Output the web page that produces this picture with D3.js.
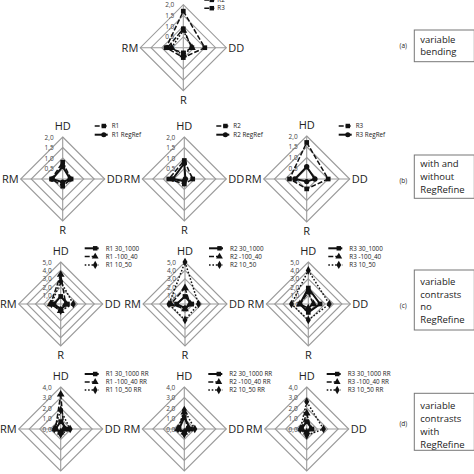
<!DOCTYPE html>
<html><head><meta charset="utf-8">
<script src="https://cdn.jsdelivr.net/npm/d3@7"></script>
<style>body{margin:0;background:#fff}svg{display:block}</style>
</head><body>
<svg id="c" width="474" height="474"></svg>
<script>
// ---------- data ----------
const axes = ["HD","DD","R","RM"];
const ticksAB = ["0","0,5","1,0","1,5","2,0"];
const ticksC  = ["0","1,0","2,0","3,0","4,0","5,0"];
const ticksD  = ["0,0","1,0","2,0","3,0","4,0"];

// panel (a) – variable bending (HD, DD, R, RM)
const aR1 = [0.80, 0.40, 0.34, 0.55];
const aR2 = [0.88, 0.40, 0.24, 0.74];
const aR3 = [1.70, 1.00, 0.46, 0.80];
// panel (b) – with/without RegRefine
const bR1 = [0.80, 0.40, 0.34, 0.53], bR1Reg = [0.60, 0.35, 0.15, 0.50];
const bR2 = [0.88, 0.40, 0.24, 0.74], bR2Reg = [0.75, 0.05, 0.10, 0.55];
const bR3 = [1.70, 1.00, 0.46, 0.80], bR3Reg = [0.57, 0.38, 0.12, 0.55];
// panel (c) – variable contrasts, no RegRefine
const c1_30 = [0.9, 0.8, 0.6, 0.8], c1_100 = [3.5, 0.6, 0.8, 1.2], c1_10 = [2.7, 1.5, 0.8, 1.1];
const c2_30 = [0.9, 0.8, 0.5, 1.0], c2_100 = [1.9, 0.6, 0.6, 1.7], c2_10 = [5.0, 1.6, 1.9, 1.9];
const c3_30 = [1.9, 1.4, 1.0, 1.0], c3_100 = [1.4, 0.6, 0.5, 1.0], c3_10 = [4.0, 2.5, 1.9, 2.0];
// panel (d) – variable contrasts with RegRefine
const d1_30 = [0.7, 0.6, 0.3, 0.5], d1_100 = [3.3, 0.3, 0.3, 0.5], d1_10 = [1.8, 0.9, 0.5, 0.6];
const d2_30 = [1.1, 0.6, 0.3, 0.5], d2_100 = [1.6, 0.3, 0.3, 0.6], d2_10 = [1.8, 1.0, 0.5, 0.6];
const d3_30 = [0.7, 0.5, 0.3, 0.5], d3_100 = [1.5, 0.4, 0.3, 0.5], d3_10 = [2.6, 1.6, 0.6, 0.6];

const boxTexts = {
  a: ["variable","bending"],
  b: ["with and","without","RegRefine"],
  c: ["variable","contrasts","no","RegRefine"],
  d: ["variable","contrasts","with","RegRefine"]
};

// ---------- styles ----------
const ST = {
  solid:  {dash:null, w:2},
  dash:   {dash:"5,2", w:1.5},
  dot:    {dash:"1.6,1.8", w:1.5},
};
const SYM = {square:d3.symbolSquare, triangle:d3.symbolTriangle, diamond:d3.symbolDiamond, circle:d3.symbolCircle};
const font = "'Open Sans', 'Liberation Sans', sans-serif";

const svg = d3.select("#c");

function radar(cx, cy, R, max, ticks, series, legend) {
  const g = svg.append("g").attr("transform", `translate(${cx},${cy})`);
  const r = d3.scaleLinear().domain([0, max]).range([0, R]);
  const ang = d3.scaleLinear().domain([0, axes.length]).range([0, 2*Math.PI]);
  const step = max / (ticks.length - 1);
  const ringVals = d3.range(1, ticks.length).map(i => i*step);
  ringVals.forEach(v => {
    g.append("path")
      .attr("d", d3.lineRadial().angle((d,i)=>ang(i)).radius(()=>r(v)).curve(d3.curveLinearClosed)(axes))
      .attr("fill","none").attr("stroke","#9a9a9a").attr("stroke-width",1.1);
  });
  axes.forEach((a,i) => {
    const x = Math.sin(ang(i))*R, y = -Math.cos(ang(i))*R;
    g.append("line").attr("x1",0).attr("y1",0).attr("x2",x).attr("y2",y)
      .attr("stroke","#9a9a9a").attr("stroke-width",1.1);
  });
  const lab = g.append("g").attr("font-family",font).attr("font-size",11).attr("fill","#222");
  lab.append("text").attr("x",0).attr("y",-R-7).attr("text-anchor","middle").text(axes[0]);
  lab.append("text").attr("x",R+2).attr("y",4).attr("text-anchor","start").text(axes[1]);
  lab.append("text").attr("x",0).attr("y",R+13).attr("text-anchor","middle").text(axes[2]);
  lab.append("text").attr("x",-R-2).attr("y",4).attr("text-anchor","end").text(axes[3]);
  g.append("g").attr("font-family",font).attr("font-size",6.5).attr("fill","#444")
    .selectAll("text").data(ticks).join("text")
    .attr("x",-9).attr("y",(d,i)=>-r(i*step)+2.5).attr("text-anchor","end").text(d=>d);
  series.forEach(s => {
    const st = ST[s.line];
    g.append("path")
      .attr("d", d3.lineRadial().angle((d,i)=>ang(i)).radius(d=>r(d)).curve(d3.curveLinearClosed)(s.values))
      .attr("fill","none").attr("stroke","#111").attr("stroke-width",st.w)
      .attr("stroke-dasharray",st.dash);
    g.selectAll(null).data(s.values).join("path")
      .attr("transform",(d,i)=>`translate(${Math.sin(ang(i))*r(d)},${-Math.cos(ang(i))*r(d)})`)
      .attr("d", d3.symbol(SYM[s.marker], s.marker==="triangle"?26:22)())
      .attr("fill","#111");
  });
  if (legend) {
    const lg = svg.append("g").attr("font-family",font).attr("font-size",6.3).attr("fill","#222");
    series.forEach((s,i) => {
      const y = legend.y + i*legend.dy;
      const st = ST[s.line];
      const x0 = cx + legend.dx, x1 = x0 + legend.len;
      lg.append("line").attr("x1",x0).attr("x2",x1).attr("y1",y).attr("y2",y)
        .attr("stroke","#111").attr("stroke-width",st.w).attr("stroke-dasharray",st.dash);
      lg.append("path").attr("transform",`translate(${x0+legend.len*legend.mpos},${y})`)
        .attr("d", d3.symbol(SYM[s.marker], 20)()).attr("fill","#111");
      lg.append("text").attr("x",x1+legend.gap).attr("y",y+2.2).text(s.name);
    });
  }
}

function box(x, y, w, h, lines, lineY, tag, tagY) {
  svg.append("rect").attr("x",x).attr("y",y).attr("width",w).attr("height",h)
    .attr("fill","#fff").attr("stroke","#777").attr("stroke-width",1);
  svg.append("g").attr("font-family",font).attr("font-size",9.5).attr("fill","#222")
    .selectAll("text").data(lines).join("text")
    .attr("x",x+6).attr("y",(d,i)=>lineY[i]+3.3).text(d=>d);
  svg.append("text").attr("x",x-11).attr("y",tagY+2.5).attr("text-anchor","middle")
    .attr("font-family",font).attr("font-size",6.5).attr("fill","#222").text(tag);
}

// ---------- panel (a) ----------
radar(183.3, 47.7, 43, 2, ticksAB, [
  {name:"R1", values:aR1, line:"dot", marker:"triangle"},
  {name:"R2", values:aR2, line:"dash",  marker:"square"},
  {name:"R3", values:aR3, line:"dash",marker:"square"}
], {y:-8.4, dy:8.3, dx:21, len:10, gap:3, mpos:0.75});
box(414.3, 30, 60, 31.7, boxTexts.a, [39.5, 51.7], "(a)", 45);

// ---------- panel (b) ----------
const bY = 179, bLeg = {y:126, dy:8.7, dx:32, len:13, gap:4, mpos:0.7};
radar(62.7, bY, 42, 2, ticksAB, [
  {name:"R1", values:bR1, line:"dash", marker:"square"},
  {name:"R1 RegRef", values:bR1Reg, line:"solid", marker:"circle"}
], bLeg);
radar(184.3, bY, 42, 2, ticksAB, [
  {name:"R2", values:bR2, line:"dash", marker:"square"},
  {name:"R2 RegRef", values:bR2Reg, line:"solid", marker:"circle"}
], bLeg);
radar(306.7, bY, 43, 2, ticksAB, [
  {name:"R3", values:bR3, line:"dash", marker:"square"},
  {name:"R3 RegRef", values:bR3Reg, line:"solid", marker:"circle"}
], bLeg);
box(414.3, 155, 60, 43.3, boxTexts.b, [163.5, 176.7, 190], "(b)", 180);

// ---------- panel (c) ----------
const cY = 304, cLeg = {y:248.3, dy:8.3, dx:24, len:14, gap:7, mpos:0.75};
radar(60.7, cY, 42, 5, ticksC, [
  {name:"R1 30_1000", values:c1_30, line:"solid", marker:"square"},
  {name:"R1 -100_40", values:c1_100, line:"dash", marker:"triangle"},
  {name:"R1 10_50", values:c1_10, line:"dot", marker:"diamond"}
], cLeg);
radar(185, cY, 42, 5, ticksC, [
  {name:"R2 30_1000", values:c2_30, line:"solid", marker:"square"},
  {name:"R2 -100_40", values:c2_100, line:"dash", marker:"triangle"},
  {name:"R2 10_50", values:c2_10, line:"dot", marker:"diamond"}
], cLeg);
radar(308.3, cY, 42, 5, ticksC, [
  {name:"R3 30_1000", values:c3_30, line:"solid", marker:"square"},
  {name:"R3 -100_40", values:c3_100, line:"dash", marker:"triangle"},
  {name:"R3 10_50", values:c3_10, line:"dot", marker:"diamond"}
], {...cLeg, dx:20});
box(414.3, 270, 60, 60, boxTexts.c, [281.7, 294.3, 307, 319.7], "(c)", 305);

// ---------- panel (d) ----------
const dY = 429, dLeg = {y:374, dy:8, dx:24, len:14, gap:7, mpos:0.75};
radar(60.7, dY, 42, 4, ticksD, [
  {name:"R1 30_1000 RR", values:d1_30, line:"solid", marker:"square"},
  {name:"R1 -100_40 RR", values:d1_100, line:"dash", marker:"triangle"},
  {name:"R1 10_50 RR", values:d1_10, line:"dot", marker:"diamond"}
], dLeg);
radar(184.3, dY, 42, 4, ticksD, [
  {name:"R2 30_1000 RR", values:d2_30, line:"solid", marker:"square"},
  {name:"R2 -100_40 RR", values:d2_100, line:"dash", marker:"triangle"},
  {name:"R2 10_50 RR", values:d2_10, line:"dot", marker:"diamond"}
], dLeg);
radar(306.7, dY, 42, 4, ticksD, [
  {name:"R3 30_1000 RR", values:d3_30, line:"solid", marker:"square"},
  {name:"R3 -100_40 RR", values:d3_100, line:"dash", marker:"triangle"},
  {name:"R3 10_50 RR", values:d3_10, line:"dot", marker:"diamond"}
], {...dLeg, dx:20});
box(414.3, 393.3, 60, 57, boxTexts.d, [405.5, 418.5, 431.5, 444.5], "(d)", 423);
</script>
</body></html>
